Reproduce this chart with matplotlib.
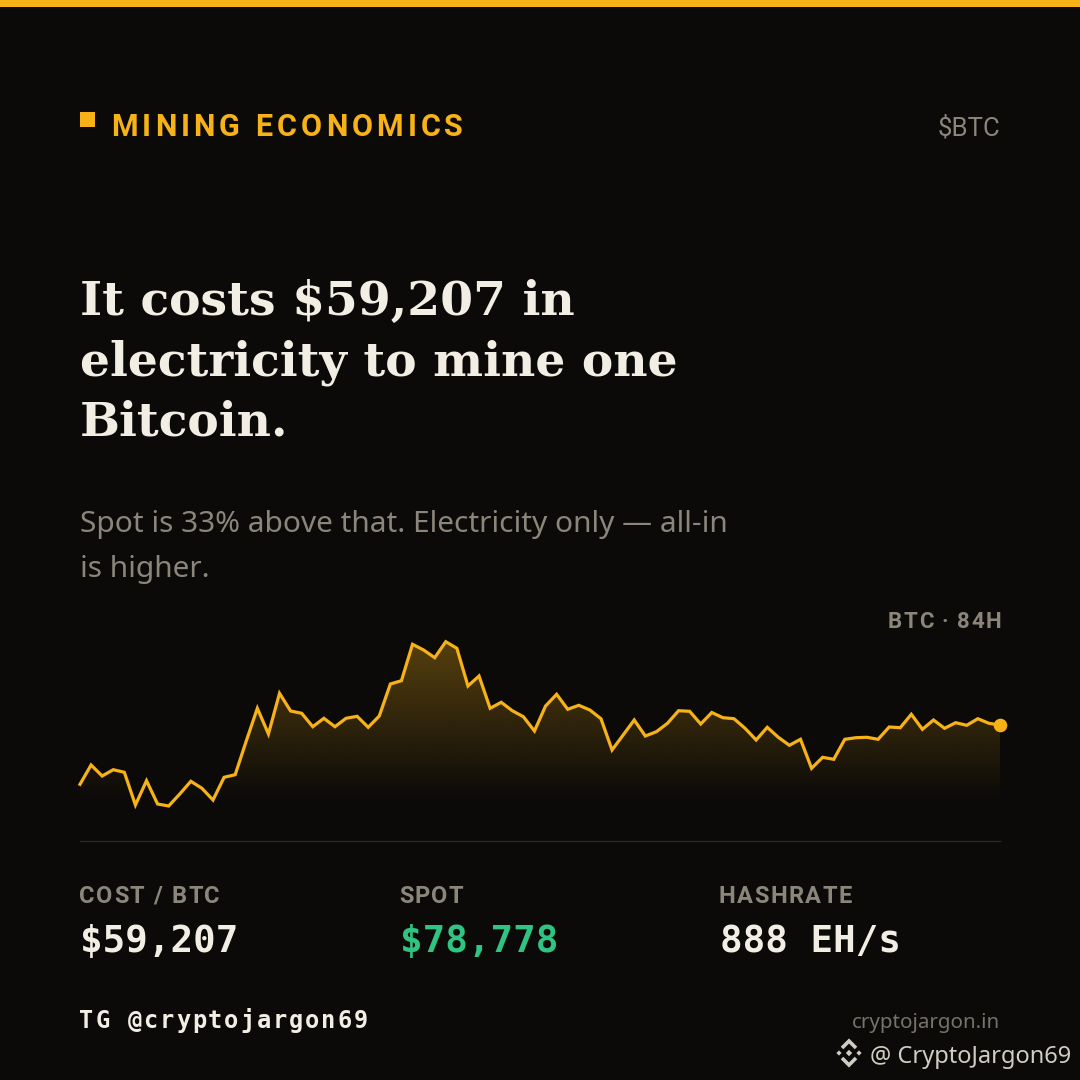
import matplotlib
matplotlib.use("Agg")
import matplotlib.pyplot as plt
import numpy as np
from matplotlib.font_manager import FontProperties, findfont, get_font
from matplotlib.patches import Rectangle, Polygon

# ---------------- data ----------------
btc_price = [77592, 77978, 77758, 77884, 77832, 77178, 77664, 77198, 77158, 77398,
             77652, 77512, 77278, 77732, 77784, 78458, 79112, 78598, 79412, 79058,
             79012, 78744, 78912, 78744, 78912, 78952, 78732, 78958, 79598, 79664,
             80392, 80278, 80124, 80444, 80312, 79558, 79758, 79112, 79232, 79064,
             78944, 78658, 79158, 79392, 79092, 79172, 79078, 78904, 78278, 78578,
             78878, 78558, 78644, 78812, 79064, 79052, 78798, 79028, 78924, 78904,
             78712, 78478, 78732, 78532, 78372, 78492, 77912, 78132, 78092, 78492,
             78524, 78532, 78492, 78738, 78724, 78992, 78692, 78878, 78712, 78824,
             78772, 78904, 78812, 78778]
hours = list(range(len(btc_price)))

kicker = "MINING ECONOMICS"
ticker = "$BTC"
title_lines = ["It costs $59,207 in", "electricity to mine one", "Bitcoin."]
subtitle_lines = ["Spot is 33% above that. Electricity only \u2014 all-in", "is higher."]
chart_label = "BTC \u00b7 84H"
stat_labels = ["COST / BTC", "SPOT", "HASHRATE"]
stat_values = ["$59,207", "$78,778", "888 EH/s"]
handle_tg = "TG @cryptojargon69"
site = "cryptojargon.in"
handle_bn = "@ CryptoJargon69"

# ---------------- style ----------------
BG = "#0b0a09"
AMBER = "#F6B216"
CREAM = "#F3EEE4"
GREY = "#8B857A"
GREEN = "#2FC482"
DIV = "#2a2825"
FOOT = "#77726a"
FOOT2 = "#d2cdc3"
DPI = 100

fig = plt.figure(figsize=(10.8, 10.8), dpi=DPI, facecolor=BG)
ax = fig.add_axes([0, 0, 1, 1])
ax.set_xlim(0, 1080)
ax.set_ylim(1080, 0)
ax.axis("off")
ax.set_facecolor(BG)


def tracked(x, y, s, size, fp, color, width, ha="left"):
    font = get_font(findfont(fp))
    font.set_size(size, DPI)
    advs, bears = [], []
    for ch in s:
        g = font.load_char(ord(ch))
        advs.append(g.linearHoriAdvance / 65536)
        bears.append(g.horiBearingX / 64)
    last_ink = font.load_char(ord(s[-1])).width / 64 + bears[-1]
    natural = sum(advs[:-1]) + last_ink - bears[0]
    track = (width - natural) / (len(s) - 1)
    start = x if ha == "left" else x - width
    pos = start - bears[0]
    for ch, a in zip(s, advs):
        if ch != " ":
            ax.text(pos, y, ch, fontproperties=fp, fontsize=size, color=color,
                    ha="left", va="baseline")
        pos += a + track


bold_sans = FontProperties(family="Roboto", weight="bold")
reg_sans = FontProperties(family="Roboto", weight="normal")
mono_bold = FontProperties(family="DejaVu Sans Mono", weight="bold")

# top bar
ax.add_patch(Rectangle((0, 0), 1080, 7, color=AMBER, lw=0))

# kicker
ax.add_patch(Rectangle((80, 112), 15, 15, color=AMBER, lw=0))
tracked(113, 136, kicker, 22, bold_sans, AMBER, 349)
ax.text(1000, 136, ticker, fontproperties=reg_sans, fontsize=18.5, color=GREY,
        ha="right", va="baseline")

# title
for i, line in enumerate(title_lines):
    ax.text(80, 315 + 60 * i, line, family="DejaVu Serif", weight="bold", fontsize=34,
            color=CREAM, ha="left", va="baseline")

# subtitle
for i, line in enumerate(subtitle_lines):
    ax.text(80, 532 + 45 * i, line, family="Noto Sans", fontsize=21.5, color=GREY,
            ha="left", va="baseline")

# chart label
tracked(1000, 628, chart_label, 16, bold_sans, GREY, 111, ha="right")

# ---------------- chart ----------------
cax = fig.add_axes([80 / 1080, 1 - 810 / 1080, 920 / 1080, 190 / 1080])
cax.set_xlim(0, len(btc_price) - 1)
cax.set_ylim(77078, 80878)
cax.axis("off")
cax.patch.set_alpha(0)
base = 77258
top = max(btc_price)
poly = cax.fill_between(hours, btc_price, base, facecolor="none", edgecolor="none")
grad = np.zeros((256, 1, 4))
rgb = matplotlib.colors.to_rgb(AMBER)
grad[..., 0], grad[..., 1], grad[..., 2] = rgb
grad[:, 0, 3] = np.linspace(0.32, 0.0, 256)
im = cax.imshow(grad, extent=[0, len(btc_price) - 1, base, top], aspect="auto",
                origin="upper", interpolation="bilinear", zorder=1)
im.set_clip_path(poly.get_paths()[0], transform=cax.transData)
cax.plot(hours, btc_price, color=AMBER, lw=2.3, solid_joinstyle="miter", zorder=3,
         clip_on=False)
cax.plot(hours[-1], btc_price[-1], "o", color=AMBER, ms=9.8, mew=0, zorder=4,
         clip_on=False)

# divider
ax.plot([80, 1000], [840.5, 840.5], color=DIV, lw=1.0)

# stats
xs = [80, 400, 720]
lab_w = [139, 63, 131]
val_colors = [CREAM, GREEN, CREAM]
for x, lab, w, val, vc in zip(xs, stat_labels, lab_w, stat_values, val_colors):
    tracked(x, 903, lab, 17, bold_sans, GREY, w)
    ax.text(x, 952, val, fontproperties=mono_bold, fontsize=27, color=vc,
            ha="left", va="baseline")

# footer
tracked(80, 1028, handle_tg, 17, mono_bold, CREAM, 286)
ax.text(1000, 1028, site, family="Noto Sans", fontsize=14.8, color=FOOT,
        ha="right", va="baseline")
ax.text(1071, 1063, handle_bn, family="Noto Sans", fontsize=17.0, color=FOOT2,
        ha="right", va="baseline")

# binance-style icon
cx, cy = 849, 1053
def diamond(x0, y0, s):
    return Polygon([(x0, y0 - s), (x0 + s, y0), (x0, y0 + s), (x0 - s, y0)],
                   closed=True, color=FOOT2, lw=0)
ax.add_patch(diamond(cx, cy, 3.2))
ax.add_patch(diamond(cx - 10, cy, 2.6))
ax.add_patch(diamond(cx + 10, cy, 2.6))
ax.plot([cx - 7, cx, cx + 7], [cy - 5, cy - 12, cy - 5], color=FOOT2, lw=2.6,
        solid_joinstyle="miter", solid_capstyle="butt")
ax.plot([cx - 7, cx, cx + 7], [cy + 5, cy + 12, cy + 5], color=FOOT2, lw=2.6,
        solid_joinstyle="miter", solid_capstyle="butt")

fig.savefig("out.png", dpi=DPI, facecolor=BG)
